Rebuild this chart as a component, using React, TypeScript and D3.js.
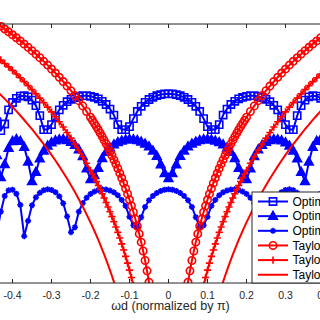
import React from 'react';
import * as d3 from 'd3';

// frequency grid (normalized by pi) for the optimized designs
const omega = [
  -0.45, -0.44, -0.43, -0.42, -0.41, -0.4, -0.39, -0.38, -0.37, -0.36, -0.35, -0.34, -0.33, -0.32, -0.31,
  -0.3, -0.29, -0.28, -0.27, -0.26, -0.25, -0.24, -0.23, -0.22, -0.21, -0.2, -0.19, -0.18, -0.17, -0.16,
  -0.15, -0.14, -0.13, -0.12, -0.11, -0.1, -0.09, -0.08, -0.07, -0.06, -0.05, -0.04, -0.03, -0.02, -0.01,
  0,
  0.01, 0.02, 0.03, 0.04, 0.05, 0.06, 0.07, 0.08, 0.09, 0.1, 0.11, 0.12, 0.13, 0.14, 0.15,
  0.16, 0.17, 0.18, 0.19, 0.2, 0.21, 0.22, 0.23, 0.24, 0.25, 0.26, 0.27, 0.28, 0.29, 0.3,
  0.31, 0.32, 0.33, 0.34, 0.35, 0.36, 0.37, 0.38, 0.39, 0.4, 0.41, 0.42, 0.43, 0.44, 0.45,
];

const optSquare = [
  -43, -49, -53.5, -50.2, -43.1, -39.4, -37.3, -36.2, -36, -36.6, -38.2, -41, -46, -53, -53,
  -50.5, -46.5, -43.1, -40.8, -39, -37.8, -36.9, -36.4, -36, -36, -36.3, -36.8, -37.6, -38.8, -40.4,
  -42.7, -45.7, -50.5, -53, -53, -51.5, -47.5, -43.9, -41.3, -39.3, -37.9, -36.8, -36, -35.4, -35.1,
  -35,
  -35.1, -35.4, -36, -36.8, -37.9, -39.3, -41.3, -43.9, -47.5, -51.5, -53, -53, -50.5, -45.7, -42.7,
  -40.4, -38.8, -37.6, -36.8, -36.3, -36, -36, -36.4, -36.9, -37.8, -39, -40.8, -43.1, -46.5, -50.5,
  -53, -53, -46, -41, -38.2, -36.6, -36, -36.2, -37.3, -39.4, -43.1, -50.2, -53.5, -49, -43,
];

const optTriangle = [
  -61, -66, -77, -70.5, -62.3, -59, -58, -58.85, -61.8, -69.2, -79, -74.4, -67.6, -63.75, -61.2,
  -59.6, -58.55, -58.1, -58, -58.45, -59.35, -60.8, -63.1, -66.5, -72.6, -78, -76, -72.4, -67.5, -64.4,
  -62.2, -60.6, -59.4, -58.7, -58.2, -58, -58.1, -58.5, -59.2, -60.2, -61.6, -63.7, -66.3, -70.6, -75,
  -77.5,
  -75, -70.6, -66.3, -63.7, -61.6, -60.2, -59.2, -58.5, -58.1, -58, -58.2, -58.7, -59.4, -60.6, -62.2,
  -64.4, -67.5, -72.4, -76, -78, -72.6, -66.5, -63.1, -60.8, -59.35, -58.45, -58, -58.1, -58.55, -59.6,
  -61.2, -63.75, -67.6, -74.4, -79, -69.2, -61.8, -58.85, -58, -59, -62.3, -70.5, -77, -66, -61,
];

const optStar = [
  -95, -105, -94.2, -86.35, -83.5, -83.15, -85.2, -90.8, -106.5, -98.8, -91, -87, -84.75, -83.45, -83,
  -83.3, -84.4, -86.5, -90, -96.6, -104.5, -102, -94.2, -89.9, -87.2, -85.3, -84.1, -83.35, -83, -83.1,
  -83.6, -84.5, -86, -88.3, -91.3, -96.8, -101, -102, -97, -91.8, -88.5, -86.3, -84.8, -83.8, -83.2,
  -83,
  -83.2, -83.8, -84.8, -86.3, -88.5, -91.8, -97, -102, -101, -96.8, -91.3, -88.3, -86, -84.5, -83.6,
  -83.1, -83, -83.35, -84.1, -85.3, -87.2, -89.9, -94.2, -102, -104.5, -96.6, -90, -86.5, -84.4, -83.3,
  -83, -83.45, -84.75, -87, -91, -98.8, -106.5, -90.8, -85.2, -83.15, -83.5, -86.35, -94.2, -105, -95,
];

// frequency grid for the Taylor designs
const omegaRed = [
  -0.44, -0.43, -0.42, -0.41, -0.4, -0.39, -0.38, -0.37, -0.36, -0.35, -0.34, -0.33, -0.32,
  -0.31, -0.3, -0.29, -0.28, -0.27, -0.26, -0.25, -0.24, -0.23, -0.22, -0.21, -0.2,
  -0.195, -0.19, -0.185, -0.18, -0.175, -0.17, -0.165, -0.16, -0.155, -0.15, -0.145, -0.14, -0.135,
  -0.13, -0.125, -0.12, -0.115, -0.11, -0.105, -0.1, -0.095, -0.09, -0.085, -0.08, -0.075, -0.07,
  -0.065, -0.06, -0.055, -0.05, -0.045, -0.04,
  0.04, 0.045, 0.05, 0.055, 0.06, 0.065, 0.07, 0.075, 0.08, 0.085, 0.09, 0.095, 0.1, 0.105,
  0.11, 0.115, 0.12, 0.125, 0.13, 0.135, 0.14, 0.145, 0.15, 0.155, 0.16, 0.165, 0.17, 0.175,
  0.18, 0.185, 0.19, 0.195,
  0.2, 0.21, 0.22, 0.23, 0.24, 0.25, 0.26, 0.27, 0.28, 0.29, 0.3, 0.31, 0.32, 0.33, 0.34,
  0.35, 0.36, 0.37, 0.38, 0.39, 0.4,
];

const taylorCircle = [
  0.28, -1.09, -2.51, -3.94, -5.41, -6.92, -8.48, -10.07, -11.71, -13.39, -15.12, -16.91, -18.75,
  -20.63, -22.6, -24.62, -26.71, -28.88, -31.14, -33.49, -35.92, -38.47, -41.12, -43.9, -46.81,
  -48.33, -49.87, -51.46, -53.1, -54.79, -56.52, -58.29, -60.14, -62.03, -63.99, -66.01, -68.11, -70.28,
  -72.54, -74.88, -77.31, -79.85, -82.51, -85.29, -88.2, -91.27, -94.5, -97.91, -101.52, -105.37, -109.5,
  -113.93, -118.7, -123.9, -129.6, -135.9, -142.9,
  -142.9, -135.9, -129.6, -123.9, -118.7, -113.93, -109.5, -105.37, -101.52, -97.91, -94.5, -91.27, -88.2, -85.29,
  -82.51, -79.85, -77.31, -74.88, -72.54, -70.28, -68.11, -66.01, -63.99, -62.03, -60.14, -58.29, -56.52, -54.79,
  -53.1, -51.46, -49.87, -48.33,
  -46.81, -43.9, -41.12, -38.47, -35.92, -33.49, -31.14, -28.88, -26.71, -24.62, -22.6, -20.63, -18.75, -16.91, -15.12,
  -13.39, -11.71, -10.07, -8.48, -6.92, -5.41,
];

const taylorPlus = [
  -16.41, -18.07, -19.79, -21.52, -23.3, -25.13, -27.01, -28.94, -30.93, -32.96, -35.05, -37.22, -39.45,
  -41.73, -44.11, -46.56, -49.09, -51.72, -54.45, -57.3, -60.25, -63.33, -66.54, -69.9, -73.43,
  -75.27, -77.13, -79.06, -81.04, -83.09, -85.19, -87.34, -89.57, -91.87, -94.23, -96.68, -99.22, -101.86,
  -104.59, -107.42, -110.36, -113.44, -116.66, -120.02, -123.55, -127.26, -131.18, -135.3, -139.68, null, null,
  null, null, null, null, null, null,
  null, null, null, null, null, null, null, null, -139.68, -135.3, -131.18, -127.26, -123.55, -120.02,
  -116.66, -113.44, -110.36, -107.42, -104.59, -101.86, -99.22, -96.68, -94.23, -91.87, -89.57, -87.34, -85.19, -83.09,
  -81.04, -79.06, -77.13, -75.27,
  -73.43, -69.9, -66.54, -63.33, -60.25, -57.3, -54.45, -51.72, -49.09, -46.56, -44.11, -41.73, -39.45, -37.22, -35.05,
  -32.96, -30.93, -28.94, -27.01, -25.13, -23.3,
];

const taylorLine = [
  -33.68, -35.6, -37.58, -39.59, -41.65, -43.76, -45.94, -48.17, -50.46, -52.81, -55.24, -57.74, -60.32,
  -62.96, -65.71, -68.54, -71.46, -74.51, -77.66, -80.95, -84.36, -87.92, -91.64, -95.53, -99.61,
  -101.73, -103.88, -106.11, -108.4, -110.77, -113.2, -115.68, -118.26, -120.92, -123.65, -126.48, -129.43, -132.47,
  -135.62, null, null, null, null, null, null, null, null, null, null, null, null,
  null, null, null, null, null, null,
  null, null, null, null, null, null, null, null, null, null, null, null, null, null,
  null, null, null, null, -135.62, -132.47, -129.43, -126.48, -123.65, -120.92, -118.26, -115.68, -113.2, -110.77,
  -108.4, -106.11, -103.88, -101.73,
  -99.61, -95.53, -91.64, -87.92, -84.36, -80.95, -77.66, -74.51, -71.46, -68.54, -65.71, -62.96, -60.32, -57.74, -55.24,
  -52.81, -50.46, -48.17, -45.94, -43.76, -41.65,
];

const xTicks = [-0.4, -0.3, -0.2, -0.1, 0, 0.1, 0.2, 0.3, 0.4];
const xTickLabels = ['-0.4', '-0.3', '-0.2', '-0.1', '0', '0.1', '0.2', '0.3', '0.4'];
const xAxisLabel = 'ωd (normalized by π)';
const legendLabels = [
  'Optimized, N=1',
  'Optimized, N=2',
  'Optimized, N=3',
  'Taylor, N=1',
  'Taylor, N=2',
  'Taylor, N=3',
];

const BLUE = '#0000ff';
const RED = '#ff0000';
const FONT = '"Liberation Sans", Arial, Helvetica, sans-serif';

const x = d3.scaleLinear().domain([-0.5, 0.5]).range([-26.5, 363.5]);
const y = d3.scaleLinear().domain([-130, 0]).range([283, 24]);

type Kind = 'square' | 'triangle' | 'star' | 'circle' | 'plus' | 'none';

function markerPath(kind: Kind, cx: number, cy: number): string {
  const p = d3.path();
  if (kind === 'square') {
    p.rect(cx - 3.6, cy - 3.6, 7.2, 7.2);
  } else if (kind === 'triangle') {
    p.moveTo(cx, cy - 4.8);
    p.lineTo(cx + 4.3, cy + 3);
    p.lineTo(cx - 4.3, cy + 3);
    p.closePath();
  } else if (kind === 'star') {
    const r = 3;
    const d = 2.1;
    p.moveTo(cx - r, cy); p.lineTo(cx + r, cy);
    p.moveTo(cx, cy - r); p.lineTo(cx, cy + r);
    p.moveTo(cx - d, cy - d); p.lineTo(cx + d, cy + d);
    p.moveTo(cx - d, cy + d); p.lineTo(cx + d, cy - d);
  } else if (kind === 'circle') {
    p.moveTo(cx + 3.7, cy);
    p.arc(cx, cy, 3.7, 0, Math.PI * 2);
  } else if (kind === 'plus') {
    const r = 3.6;
    p.moveTo(cx - r, cy); p.lineTo(cx + r, cy);
    p.moveTo(cx, cy - r); p.lineTo(cx, cy + r);
  }
  return p.toString();
}

interface Series {
  xs: number[];
  ys: (number | null)[];
  color: string;
  kind: Kind;
}

const series: Series[] = [
  { xs: omega, ys: optSquare, color: BLUE, kind: 'square' },
  { xs: omega, ys: optTriangle, color: BLUE, kind: 'triangle' },
  { xs: omega, ys: optStar, color: BLUE, kind: 'star' },
  { xs: omegaRed, ys: taylorCircle, color: RED, kind: 'circle' },
  { xs: omegaRed, ys: taylorPlus, color: RED, kind: 'plus' },
  { xs: omegaRed, ys: taylorLine, color: RED, kind: 'none' },
];

const lineGen = d3
  .line<[number, number | null]>()
  .defined((d) => d[1] !== null)
  .x((d) => x(d[0]))
  .y((d) => y(d[1] as number));

export default function App() {
  const plotTop = y(0);
  const plotBottom = y(-130);
  const legendX = 252;
  const legendY = 192;
  const rowY0 = 201.5;
  const rowStep = 14.65;

  return (
    <svg
      width={320}
      height={320}
      viewBox="0 0 320 320"
      style={{ position: 'fixed', left: 0, top: 0, background: '#fff' }}
    >
      <defs>
        <clipPath id="plotClip">
          <rect x={0} y={plotTop - 2} width={320} height={plotBottom - plotTop + 2} />
        </clipPath>
      </defs>
      <rect x={0} y={0} width={320} height={320} fill="#fff" />

      <g clipPath="url(#plotClip)">
        {series.map((s, i) => {
          const pts: [number, number | null][] = s.xs.map((v, j) => [v, s.ys[j]]);
          const marks = pts
            .filter((d) => d[1] !== null)
            .map((d) => markerPath(s.kind, x(d[0]), y(d[1] as number)))
            .join('');
          return (
            <g key={i}>
              <path d={lineGen(pts) || ''} fill="none" stroke={s.color} strokeWidth={2} strokeLinejoin="round" />
              {s.kind !== 'none' && (
                <path
                  d={marks}
                  fill={s.kind === 'triangle' ? s.color : 'none'}
                  stroke={s.color}
                  strokeWidth={1.6}
                />
              )}
            </g>
          );
        })}
      </g>

      {/* axes box lines */}
      <line x1={0} x2={320} y1={plotTop} y2={plotTop} stroke="#262626" strokeWidth={1} />
      <line x1={0} x2={320} y1={plotBottom} y2={plotBottom} stroke="#262626" strokeWidth={1} />
      {xTicks.map((t, i) => (
        <g key={i}>
          <line x1={x(t)} x2={x(t)} y1={plotTop} y2={plotTop + 4} stroke="#262626" strokeWidth={1} />
          <line x1={x(t)} x2={x(t)} y1={plotBottom} y2={plotBottom - 4} stroke="#262626" strokeWidth={1} />
          <text
            x={x(t)}
            y={298.5}
            textAnchor="middle"
            fontFamily={FONT}
            fontSize={10.5}
            fill="#262626"
          >
            {xTickLabels[i]}
          </text>
        </g>
      ))}
      <text x={170.5} y={310} textAnchor="middle" fontFamily={FONT} fontSize={12.5} fill="#262626">
        {xAxisLabel}
      </text>

      {/* legend */}
      <rect x={legendX} y={legendY} width={120} height={plotBottom - legendY} fill="#fff" stroke="#262626" strokeWidth={1} />
      {series.map((s, i) => {
        const ry = rowY0 + i * rowStep;
        return (
          <g key={i}>
            <line x1={258} x2={288} y1={ry} y2={ry} stroke={s.color} strokeWidth={2} />
            {s.kind !== 'none' && (
              <path
                d={markerPath(s.kind, 273, ry)}
                fill={s.kind === 'triangle' ? s.color : 'none'}
                stroke={s.color}
                strokeWidth={1.6}
              />
            )}
            <text x={292.5} y={ry + 4.3} fontFamily={FONT} fontSize={12} fill="#000">
              {legendLabels[i]}
            </text>
          </g>
        );
      })}
    </svg>
  );
}
